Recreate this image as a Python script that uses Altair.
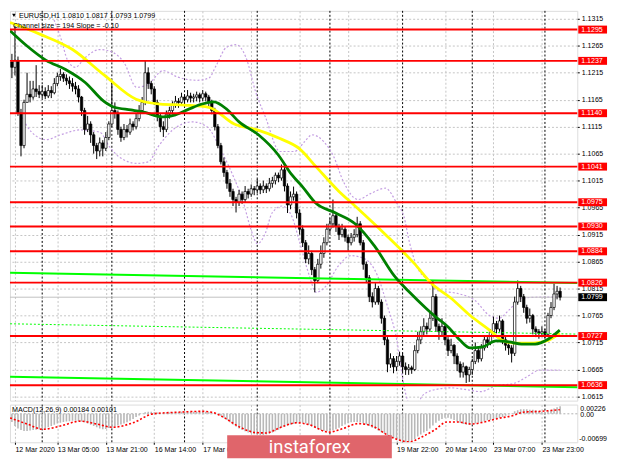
import altair as alt
import pandas as pd

FONT = "Liberation Sans"
FS = 7.1

# ---------------- candles: EURUSD H1, bar 0 = 12 Mar 14:00 ... bar 181 = 24 Mar 05:00 -------------
first_open = 1.1235
high = [1.1250, 1.1302, 1.1245, 1.1148, 1.1165, 1.1215, 1.1200, 1.1200, 1.1229, 1.1192,
        1.1192, 1.1188, 1.1192, 1.1190, 1.1205, 1.1215, 1.1222, 1.1216, 1.1212, 1.1208,
        1.1205, 1.1198, 1.1192, 1.1172, 1.1150, 1.1135, 1.1125, 1.1105, 1.1085, 1.1095,
        1.1090, 1.1105, 1.1125, 1.1198, 1.1160, 1.1145, 1.1115, 1.1120, 1.1118, 1.1130,
        1.1125, 1.1140, 1.1155, 1.1170, 1.1238, 1.1225, 1.1200, 1.1190, 1.1165, 1.1140,
        1.1125, 1.1145, 1.1152, 1.1162, 1.1172, 1.1168, 1.1178, 1.1175, 1.1183, 1.1178,
        1.1176, 1.1180, 1.1178, 1.1183, 1.1180, 1.1174, 1.1165, 1.1150, 1.1120, 1.1085,
        1.1058, 1.1035, 1.1018, 1.1000, 1.0985, 1.0998, 1.0995, 1.1005, 1.1000, 1.1008,
        1.1005, 1.1018, 1.1010, 1.1015, 1.1010, 1.1020, 1.1022, 1.1030, 1.1030, 1.1045,
        1.1040, 1.1010, 1.0995, 1.1004, 1.0995, 1.0962, 1.0932, 1.0905, 1.0895, 1.0885,
        1.0855, 1.0870, 1.0895, 1.0910, 1.0935, 1.0945, 1.0980, 1.0955, 1.0935, 1.0935,
        1.0930, 1.0915, 1.0918, 1.0925, 1.0948, 1.0940, 1.0905, 1.0865, 1.0840, 1.0808,
        1.0825, 1.0820, 1.0795, 1.0765, 1.0725, 1.0695, 1.0690, 1.0690, 1.0698, 1.0695,
        1.0678, 1.0675, 1.0672, 1.0710, 1.0735, 1.0745, 1.0760, 1.0752, 1.0770, 1.0829,
        1.0805, 1.0750, 1.0760, 1.0750, 1.0725, 1.0722, 1.0712, 1.0695, 1.0680, 1.0678,
        1.0672, 1.0670, 1.0685, 1.0715, 1.0705, 1.0712, 1.0728, 1.0725, 1.0740, 1.0763,
        1.0755, 1.0765, 1.0758, 1.0725, 1.0715, 1.0710, 1.0800, 1.0830, 1.0820, 1.0805,
        1.0785, 1.0778, 1.0768, 1.0745, 1.0740, 1.0745, 1.0740, 1.0770, 1.0790, 1.0824,
        1.0820, 1.0817]
low = [1.1205, 1.1210, 1.1135, 1.1060, 1.1075, 1.1160, 1.1160, 1.1165, 1.1170, 1.1168,
       1.1168, 1.1166, 1.1168, 1.1168, 1.1175, 1.1190, 1.1200, 1.1198, 1.1192, 1.1185,
       1.1180, 1.1175, 1.1160, 1.1135, 1.1100, 1.1105, 1.1085, 1.1065, 1.1055, 1.1060,
       1.1060, 1.1070, 1.1090, 1.1115, 1.1130, 1.1100, 1.1087, 1.1090, 1.1095, 1.1100,
       1.1108, 1.1110, 1.1125, 1.1140, 1.1155, 1.1185, 1.1175, 1.1155, 1.1125, 1.1105,
       1.1096, 1.1105, 1.1130, 1.1140, 1.1150, 1.1150, 1.1155, 1.1155, 1.1160, 1.1160,
       1.1160, 1.1162, 1.1160, 1.1162, 1.1162, 1.1150, 1.1138, 1.1108, 1.1075, 1.1045,
       1.1022, 1.1000, 1.0985, 1.0968, 1.0956, 1.0968, 1.0972, 1.0975, 1.0982, 1.0985,
       1.0988, 1.0992, 1.0990, 1.0992, 1.0992, 1.0995, 1.1002, 1.1008, 1.1012, 1.1015,
       1.0995, 1.0955, 1.0962, 1.0978, 1.0945, 1.0915, 1.0892, 1.0862, 1.0860, 1.0840,
       1.0808, 1.0825, 1.0852, 1.0872, 1.0895, 1.0918, 1.0928, 1.0920, 1.0905, 1.0910,
       1.0902, 1.0885, 1.0895, 1.0902, 1.0910, 1.0895, 1.0850, 1.0825, 1.0790, 1.0780,
       1.0785, 1.0785, 1.0750, 1.0710, 1.0660, 1.0668, 1.0658, 1.0662, 1.0672, 1.0660,
       1.0655, 1.0655, 1.0657, 1.0662, 1.0695, 1.0712, 1.0728, 1.0730, 1.0735, 1.0755,
       1.0735, 1.0720, 1.0728, 1.0710, 1.0690, 1.0695, 1.0675, 1.0662, 1.0650, 1.0650,
       1.0640, 1.0642, 1.0655, 1.0675, 1.0678, 1.0680, 1.0700, 1.0705, 1.0710, 1.0730,
       1.0732, 1.0735, 1.0712, 1.0700, 1.0692, 1.0678, 1.0690, 1.0785, 1.0790, 1.0770,
       1.0750, 1.0752, 1.0730, 1.0725, 1.0722, 1.0725, 1.0722, 1.0728, 1.0760, 1.0775,
       1.0795, 1.0793]
close = [1.1225, 1.1238, 1.1140, 1.1080, 1.1160, 1.1175, 1.1170, 1.1185, 1.1180, 1.1175,
         1.1180, 1.1172, 1.1182, 1.1178, 1.1195, 1.1208, 1.1212, 1.1205, 1.1200, 1.1195,
         1.1190, 1.1185, 1.1170, 1.1145, 1.1110, 1.1120, 1.1100, 1.1080, 1.1070, 1.1085,
         1.1075, 1.1095, 1.1120, 1.1145, 1.1140, 1.1110, 1.1095, 1.1110, 1.1105, 1.1120,
         1.1115, 1.1130, 1.1145, 1.1160, 1.1215, 1.1195, 1.1185, 1.1160, 1.1135, 1.1115,
         1.1110, 1.1138, 1.1145, 1.1155, 1.1162, 1.1160, 1.1170, 1.1165, 1.1172, 1.1168,
         1.1170, 1.1174, 1.1168, 1.1176, 1.1170, 1.1160, 1.1145, 1.1115, 1.1080, 1.1050,
         1.1030, 1.1010, 1.0995, 1.0980, 1.0975, 1.0990, 1.0980, 1.0995, 1.0990, 1.1000,
         1.0998, 1.1005, 1.0998, 1.1005, 1.1000, 1.1010, 1.1015, 1.1025, 1.1020, 1.1035,
         1.1005, 1.0970, 1.0985, 1.0990, 1.0955, 1.0925, 1.0900, 1.0870, 1.0880, 1.0850,
         1.0830, 1.0860, 1.0880, 1.0900, 1.0925, 1.0935, 1.0950, 1.0930, 1.0915, 1.0925,
         1.0910, 1.0900, 1.0910, 1.0915, 1.0935, 1.0900, 1.0860, 1.0835, 1.0800, 1.0790,
         1.0815, 1.0790, 1.0760, 1.0720, 1.0675, 1.0685, 1.0670, 1.0680, 1.0690, 1.0670,
         1.0665, 1.0668, 1.0665, 1.0700, 1.0720, 1.0735, 1.0745, 1.0740, 1.0760, 1.0800,
         1.0745, 1.0735, 1.0745, 1.0720, 1.0700, 1.0710, 1.0690, 1.0675, 1.0660, 1.0670,
         1.0655, 1.0665, 1.0680, 1.0700, 1.0685, 1.0705, 1.0720, 1.0715, 1.0735, 1.0750,
         1.0740, 1.0755, 1.0720, 1.0710, 1.0705, 1.0695, 1.0790, 1.0815, 1.0800, 1.0780,
         1.0760, 1.0765, 1.0740, 1.0735, 1.0732, 1.0735, 1.0730, 1.0765, 1.0780, 1.0805,
         1.0810, 1.0799]
opens = [first_open] + close[:-1]

# ---------------- MACD(12,26,9) histogram (main line), one value per bar ----------------
macd_main = [-0.0020, -0.0030, -0.0036, -0.0040, -0.0042, -0.0042, -0.0041, -0.0040, -0.0039, -0.0038,
             -0.0038, -0.0036, -0.0033, -0.0030, -0.0027, -0.0024, -0.0022, -0.0020, -0.0019, -0.0018,
             -0.0017, -0.0017, -0.0018, -0.0019, -0.0021, -0.0024, -0.0027, -0.0030, -0.0033, -0.0036,
             -0.0038, -0.0037, -0.0035, -0.0034, -0.0031, -0.0029, -0.0026, -0.0024, -0.0021, -0.0017,
             -0.0013, -0.0008, -0.0004, 0.0001, 0.0004, 0.0005, 0.0005, 0.0004, 0.0003, 0.0002,
             0.0002, 0.0003, 0.0003, 0.0004, 0.0004, 0.0004, 0.0005, 0.0005, 0.0005, 0.0005,
             0.0005, 0.0005, 0.0005, 0.0006, 0.0005, 0.0004, 0.0003, 0.0001, -0.0002, -0.0005,
             -0.0010, -0.0015, -0.0021, -0.0026, -0.0031, -0.0036, -0.0040, -0.0043, -0.0046, -0.0048,
             -0.0050, -0.0051, -0.0052, -0.0052, -0.0051, -0.0049, -0.0046, -0.0043, -0.0039, -0.0034,
             -0.0031, -0.0029, -0.0027, -0.0025, -0.0023, -0.0022, -0.0022, -0.0024, -0.0027, -0.0031,
             -0.0035, -0.0038, -0.0040, -0.0042, -0.0043, -0.0043, -0.0041, -0.0038, -0.0034, -0.0030,
             -0.0026, -0.0023, -0.0021, -0.0020, -0.0020, -0.0021, -0.0023, -0.0026, -0.0030, -0.0034,
             -0.0037, -0.0041, -0.0045, -0.0049, -0.0053, -0.0057, -0.0060, -0.0063, -0.0066, -0.0069,
             -0.0070, -0.0069, -0.0066, -0.0062, -0.0056, -0.0051, -0.0046, -0.0042, -0.0036, -0.0029,
             -0.0022, -0.0017, -0.0013, -0.0010, -0.0010, -0.0012, -0.0015, -0.0019, -0.0022, -0.0025,
             -0.0027, -0.0027, -0.0026, -0.0024, -0.0022, -0.0020, -0.0018, -0.0016, -0.0015, -0.0013,
             -0.0011, -0.0010, -0.0008, -0.0005, -0.0002, 0.0001, 0.0006, 0.0009, 0.0011, 0.0011,
             0.0011, 0.0010, 0.0010, 0.0009, 0.0007, 0.0005, 0.0004, 0.0006, 0.0009, 0.0013,
             0.0016, 0.00184]

# signal line (read at selected bars)
signal_bar = [-0.6, 5, 10.3, 16, 22.6, 28, 33.2, 40, 46.7, 55, 62.8, 66, 69.2, 75.6, 80.5, 84,
              88.5, 94, 98.2, 104.6, 109.4, 114.3, 119, 124.9, 131.3, 135, 139.5, 143.7, 147.2,
              151.7, 156, 160.2, 165.6, 168.8, 174.4, 180.9]
signal_val = [-0.0010, -0.0025, -0.0038, -0.0030, -0.0018, -0.0025, -0.0033, -0.0022, 0.0000, 0.0004,
              0.0006, 0.0004, -0.0006, -0.0034, -0.0046, -0.0047, -0.0034, -0.0022, -0.0027, -0.0045,
              -0.0036, -0.0024, -0.0030, -0.0056, -0.0069, -0.0058, -0.0040, -0.0020, -0.0020, -0.0025,
              -0.0020, -0.0012, -0.0004, 0.0004, 0.0006, 0.00101]

# ---------------- moving averages ----------------
ma_yellow_bar = [-0.6, 9, 20, 30.6, 41, 49, 57, 65, 73.4, 81, 88.5, 95, 100.4, 108, 113.3, 123.9,
                 132.6, 139, 144.8, 151.3, 157.7, 161.9, 166.4, 172.2, 177, 180.9]
ma_yellow_val = [1.1308, 1.1287, 1.1258, 1.1210, 1.1166, 1.1157, 1.1155, 1.1151, 1.1120, 1.1109,
                 1.1093, 1.1074, 1.1041, 1.0995, 1.0968, 1.0912, 1.0863, 1.0822, 1.0798, 1.0765,
                 1.0738, 1.0719, 1.0714, 1.0714, 1.0719, 1.0732]
ma_green_bar = [-0.6, 4.9, 11.3, 17.7, 24.2, 30.6, 33.8, 39.3, 43.5, 49.9, 54, 58.6, 62.8, 66.6,
                70.8, 75, 81.4, 87.9, 92.4, 95.9, 100.4, 106.9, 113.3, 119.7, 126.2, 131.3, 136.8,
                140, 144.2, 148, 151.3, 155.4, 159.9, 164.1, 168.3, 172.8, 177, 180.9]
ma_green_val = [1.1293, 1.1265, 1.1238, 1.1221, 1.1197, 1.1161, 1.1151, 1.1146, 1.1142, 1.1133,
                1.1137, 1.1148, 1.1157, 1.1161, 1.1148, 1.1124, 1.1100, 1.1063, 1.1026, 1.1004,
                1.0973, 1.0955, 1.0935, 1.0894, 1.0839, 1.0808, 1.0778, 1.0762, 1.0743, 1.0719,
                1.0705, 1.0707, 1.0718, 1.0716, 1.0712, 1.0712, 1.0721, 1.0738]

# ---------------- bands (dotted violet) ----------------
band_up_bar = [13.9, 16.1, 18.4, 20.9, 24.2, 29.0, 33.2, 37.0, 41.2, 45.1, 49.9, 54.7, 61.2, 65.0,
               67.6, 70.8, 74.0, 77.3, 80.5, 83.7, 88.5, 93.3, 96.6, 99.1, 103.0, 106.2, 109.4,
               114.3, 118.4, 123.3, 127.1, 129.4, 131.3, 133.6, 136.8, 140.6, 147.1, 152.9, 157.7,
               160.9, 164.1, 168.3, 173.8, 180.9]
band_up_val = [1.1313, 1.1280, 1.1238, 1.1225, 1.1243, 1.1258, 1.1253, 1.1234, 1.1188, 1.1194,
               1.1219, 1.1207, 1.1201, 1.1205, 1.1230, 1.1262, 1.1267, 1.1243, 1.1179, 1.1133,
               1.1069, 1.1069, 1.1087, 1.1100, 1.1087, 1.1060, 1.1014, 1.0980, 1.0991, 1.1001,
               1.0973, 1.0949, 1.0900, 1.0857, 1.0833, 1.0811, 1.0806, 1.0793, 1.0765, 1.0760,
               1.0775, 1.0797, 1.0799, 1.0799]
band_lo_bar = [3.2, 6.5, 11.3, 16.1, 22.6, 29.0, 32.2, 35.4, 41.2, 45.1, 48.3, 53.1, 59.6, 64.4,
               69.2, 73.1, 76.3, 78.9, 81.1, 83.7, 85.9, 89.2, 92.4, 94.9, 98.2, 100.4, 103.6,
               107.8, 112.0, 116.5, 120.7, 123.9, 127.1, 129.1, 131.0, 133.6, 135.8, 140.0, 144.8,
               149.6, 154.8, 159.9, 165.7, 169.9, 174.4, 180.9]
band_lo_val = [1.1133, 1.1105, 1.1091, 1.1100, 1.1109, 1.1105, 1.1078, 1.1059, 1.1047, 1.1050,
               1.1078, 1.1109, 1.1124, 1.1115, 1.1069, 1.1023, 1.0977, 1.0925, 1.0898, 1.0918,
               1.0955, 1.0968, 1.0949, 1.0903, 1.0839, 1.0808, 1.0819, 1.0857, 1.0876, 1.0870,
               1.0839, 1.0784, 1.0719, 1.0646, 1.0605, 1.0602, 1.0618, 1.0628, 1.0631, 1.0628,
               1.0624, 1.0635, 1.0639, 1.0651, 1.0664, 1.0664]

# ---------------- regression channel (bright green) ----------------
channel_bar = [-0.6, 187.6]
channel_top = [1.08444, 1.08251]
channel_mid = [1.07497, 1.07305]
channel_bot = [1.06514, 1.06321]

# ---------------- horizontal levels and labels ----------------
levels = [1.1295, 1.1237, 1.1140, 1.1041, 1.0975, 1.0930, 1.0884, 1.0826, 1.0727, 1.0636]
last_price = 1.0799
price_ticks = [1.1315, 1.1265, 1.1215, 1.1165, 1.1115, 1.1065, 1.1015, 1.0965, 1.0915,
               1.0865, 1.0815, 1.0765, 1.0715, 1.0665, 1.0615]
day_starts = [10, 33, 57, 81, 105, 129, 152, 176]
X_MIN, X_MAX = 1.0, 185.04
label_pos = [X_MIN, 15, 31, 47, 63, 79, 95, 111, 127, 143, 159, 175]
# labels at 79, 95, 111 lie under the watermark in the reference
label_txt = ["12 Mar 2020", "13 Mar 05:00", "13 Mar 21:00", "16 Mar 14:00", "17 Mar 06:00",
             "", "", "", "19 Mar 22:00", "20 Mar 14:00", "23 Mar 07:00", "23 Mar 23:00"]
macd_ticks = [0.00226, 0.0, -0.00699]
macd_tick_txt = ["0.00226", "0.00", "-0.00699"]

assert len(high) == len(low) == len(close) == len(macd_main) == 182

# ---------------- data frames ----------------
bars = pd.DataFrame({"i": list(range(len(close))), "o": opens, "h": high, "l": low,
                     "c": close, "m": macd_main})
sig_df = pd.DataFrame({"b": signal_bar, "v": signal_val})
yel_df = pd.DataFrame({"b": ma_yellow_bar, "v": ma_yellow_val})
grn_df = pd.DataFrame({"b": ma_green_bar, "v": ma_green_val})
bup_df = pd.DataFrame({"b": band_up_bar, "v": band_up_val})
blo_df = pd.DataFrame({"b": band_lo_bar, "v": band_lo_val})
ch_top = pd.DataFrame({"b": channel_bar, "v": channel_top})
ch_mid = pd.DataFrame({"b": channel_bar, "v": channel_mid})
ch_bot = pd.DataFrame({"b": channel_bar, "v": channel_bot})
lvl_df = pd.DataFrame({"lv": levels, "lt": [f"{v:.4f}" for v in levels]})
cur_df = pd.DataFrame({"lv": [last_price], "lt": [f"{last_price:.4f}"]})
sep_df = pd.DataFrame({"b": day_starts})
mt_df = pd.DataFrame({"v": macd_ticks, "t": macd_tick_txt})

# ---------------- scales & axes ----------------
W = 572
xs = alt.Scale(domain=[X_MIN, X_MAX], nice=False, zero=False)
ys = alt.Scale(domain=[1.06073, 1.13297], nice=False, zero=False)
ms = alt.Scale(domain=[-0.00699, 0.00226], nice=False, zero=False)

x_grid_axis = alt.Axis(values=label_pos, grid=True, gridColor="#c4c4c4", gridDash=[2, 2],
                       labels=False, ticks=False, domain=False, title=None, zindex=0)

lab_expr = "''"
for p, t in reversed(list(zip(label_pos, label_txt))):
    lab_expr = f"(abs(datum.value - ({p})) < 0.01 ? '{t}' : {lab_expr})"

x_lab_axis = alt.Axis(values=label_pos, grid=True, gridColor="#c4c4c4", gridDash=[2, 2],
                      labels=True, labelExpr=lab_expr, labelAlign="left", labelBaseline="top",
                      labelPadding=1, labelFont=FONT, labelFontSize=FS, labelColor="black",
                      labelFlush=False, labelOverlap=False, ticks=True, tickSize=2,
                      tickColor="black", domain=False, title=None, orient="bottom", zindex=0)

y_axis = alt.Axis(orient="right", values=price_ticks, format=".4f", grid=True,
                  gridColor="#c4c4c4", gridDash=[2, 2], tickSize=2, tickColor="black",
                  labelPadding=2, labelFont=FONT, labelFontSize=FS, labelColor="black",
                  domain=False, title=None, labelOverlap=False, labelFlush=False, zindex=0)


def XM(f):
    return alt.X(f, type="quantitative", scale=xs, axis=x_grid_axis)


def XB(f):
    return alt.X(f, type="quantitative", scale=xs, axis=x_lab_axis)


def YP(f):
    return alt.Y(f, type="quantitative", scale=ys, axis=y_axis)


def YM(f):
    return alt.Y(f, type="quantitative", scale=ms, axis=None)


# ---------------- main price panel ----------------
seps = alt.Chart(sep_df).mark_rule(color="black", strokeDash=[2, 2], strokeWidth=1).encode(x=XM("b"))
b_up = alt.Chart(bup_df).mark_line(color="#c49ee2", strokeDash=[2, 2], strokeWidth=1.2,
                                   interpolate="monotone", clip=True).encode(x=XM("b"), y=YP("v"))
b_lo = alt.Chart(blo_df).mark_line(color="#c49ee2", strokeDash=[2, 2], strokeWidth=1.2,
                                   interpolate="monotone", clip=True).encode(x=XM("b"), y=YP("v"))
cur_line = alt.Chart(cur_df).mark_rule(color="#c0c0c0", strokeWidth=1).encode(y=YP("lv"))
wick = alt.Chart(bars).mark_rule(color="black", strokeWidth=1, clip=True).encode(
    x=XM("i"), y=YP("l"), y2=alt.Y2("h"))
body = alt.Chart(bars).mark_bar(width=2.4, stroke="black", strokeWidth=0.7, clip=True).encode(
    x=XM("i"), y=YP("o"), y2=alt.Y2("c"),
    fill=alt.condition("datum.c >= datum.o", alt.value("white"), alt.value("black")))
c_top = alt.Chart(ch_top).mark_line(color="#00ff00", strokeWidth=2, clip=True).encode(
    x=XM("b"), y=YP("v"))
c_mid = alt.Chart(ch_mid).mark_line(color="#00ff00", strokeWidth=1, strokeDash=[2, 2],
                                    clip=True).encode(x=XM("b"), y=YP("v"))
c_bot = alt.Chart(ch_bot).mark_line(color="#00ff00", strokeWidth=2, clip=True).encode(
    x=XM("b"), y=YP("v"))
red = alt.Chart(lvl_df).mark_rule(color="#ff0000", strokeWidth=2).encode(y=YP("lv"))
yel = alt.Chart(yel_df).mark_line(color="#ffff00", strokeWidth=2.8, interpolate="monotone",
                                  clip=True).encode(x=XM("b"), y=YP("v"))
grn = alt.Chart(grn_df).mark_line(color="#008000", strokeWidth=2.8, interpolate="monotone",
                                  clip=True).encode(x=XM("b"), y=YP("v"))
red_box = alt.Chart(lvl_df).mark_rule(color="#ff0000", strokeWidth=8, strokeCap="butt").encode(
    x=alt.value(W + 1), x2=alt.value(W + 30), y=YP("lv"))
red_txt = alt.Chart(lvl_df).mark_text(align="left", baseline="middle", font=FONT, fontSize=FS,
                                      color="white").encode(x=alt.value(W + 4), y=YP("lv"), text="lt:N")
cur_box = alt.Chart(cur_df).mark_rule(color="#000000", strokeWidth=8, strokeCap="butt").encode(
    x=alt.value(W + 1), x2=alt.value(W + 30), y=YP("lv"))
cur_txt = alt.Chart(cur_df).mark_text(align="left", baseline="middle", font=FONT, fontSize=FS,
                                      color="white").encode(x=alt.value(W + 4), y=YP("lv"), text="lt:N")
hdr_df = pd.DataFrame({"t": ["EURUSD,H1  1.0810 1.0817 1.0793 1.0799"]})
hdr = alt.Chart(hdr_df).mark_text(align="left", baseline="top", font=FONT, fontSize=7.2,
                                  color="black").encode(x=alt.value(9), y=alt.value(1), text="t:N")
tri = alt.Chart(hdr_df).mark_point(shape="triangle-down", filled=True, size=14, color="black",
                                   opacity=1).encode(x=alt.value(4), y=alt.value(4.5))
ch_df = pd.DataFrame({"t": ["Channel size = 194 Slope = -0.10"]})
ch_txt = alt.Chart(ch_df).mark_text(align="left", baseline="top", font=FONT, fontSize=7.2,
                                    color="black").encode(x=alt.value(3), y=alt.value(11), text="t:N")

main = alt.layer(seps, b_up, b_lo, cur_line, wick, body, c_top, c_mid, c_bot, yel, grn, red,
                 red_box, red_txt, cur_box, cur_txt, tri, hdr, ch_txt).properties(width=W, height=393)

# ---------------- MACD panel ----------------
MH = 38
seps_m = alt.Chart(sep_df).mark_rule(color="black", strokeDash=[2, 2], strokeWidth=1).encode(x=XB("b"))
zero = alt.Chart(mt_df).transform_filter("datum.v == 0").mark_rule(
    color="#b0b0b0", strokeDash=[2, 2]).encode(y=YM("v"))
hist = alt.Chart(bars).mark_bar(width=1.6, color="#b8b8b8", clip=True).encode(
    x=XB("i"), y=YM("m"), y2=alt.Y2(datum=0))
sig = alt.Chart(sig_df).mark_line(color="#ff0000", strokeDash=[2, 2], strokeWidth=1.6,
                                  interpolate="monotone", clip=True).encode(x=XB("b"), y=YM("v"))
mt_top = alt.Chart(mt_df).transform_filter("datum.v > 0.001").mark_text(
    align="left", baseline="top", font=FONT, fontSize=FS, color="black", dy=0.5).encode(
    x=alt.value(W + 3), y=YM("v"), text="t:N")
mt_zero = alt.Chart(mt_df).transform_filter("datum.v == 0").mark_text(
    align="left", baseline="middle", font=FONT, fontSize=FS, color="black", dy=1.5).encode(
    x=alt.value(W + 3), y=YM("v"), text="t:N")
mt_bot = alt.Chart(mt_df).transform_filter("datum.v < -0.001").mark_text(
    align="left", baseline="bottom", font=FONT, fontSize=FS, color="black", dy=-0.5).encode(
    x=alt.value(W + 2), y=YM("v"), text="t:N")
macd_title_df = pd.DataFrame({"t": ["MACD(12,26,9) 0.00184 0.00101"]})
macd_title = alt.Chart(macd_title_df).mark_text(align="left", baseline="middle", font=FONT,
                                                fontSize=7.2, color="black").encode(
    x=alt.value(2), y=alt.value(5), text="t:N")
wm_df = pd.DataFrame({"t": ["instaforex"]})
wm_box = alt.Chart(wm_df).mark_rect(color="#e0656b", opacity=1).encode(
    x=alt.value(219), x2=alt.value(385), y=alt.value(31), y2=alt.value(54))
wm_txt = alt.Chart(wm_df).mark_text(align="left", baseline="middle", font="Roboto", fontSize=18.5,
                                    color="white").encode(x=alt.value(261), y=alt.value(42.5), text="t:N")

macd = alt.layer(seps_m, zero, hist, sig, mt_top, mt_zero, mt_bot, macd_title,
                 wm_box, wm_txt).properties(width=W, height=MH)

chart = alt.vconcat(main, macd, spacing=2).properties(padding=0).configure_view(
    stroke="#000000", strokeWidth=1).configure(background="white")

chart.save("out.html", embed_options={"renderer": "svg", "actions": False})
